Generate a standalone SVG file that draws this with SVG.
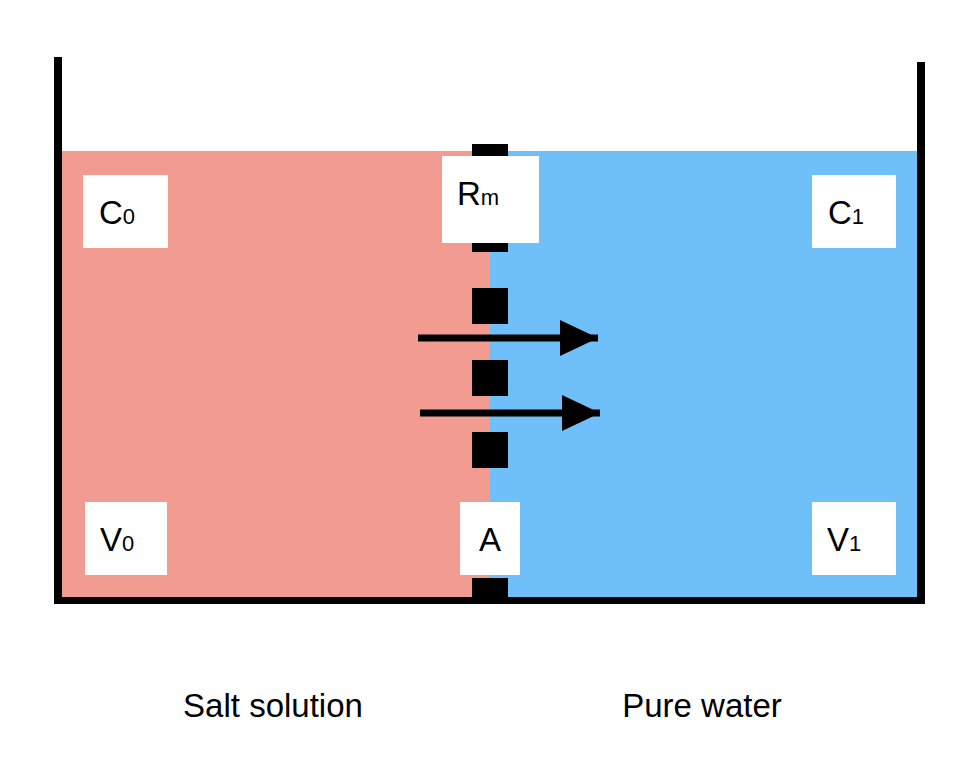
<svg xmlns="http://www.w3.org/2000/svg" width="972" height="770" viewBox="0 0 972 770">
<style>
.t{font-family:"Liberation Sans",Arial,sans-serif;font-size:33px;fill:#000}
.s{font-size:22px}
.box{fill:#fff}
.blk{fill:#000}
</style>
<defs>
<marker id="ah" markerUnits="userSpaceOnUse" markerWidth="40" markerHeight="40" refX="38" refY="18" orient="auto">
<path d="M0,0 L38,18 L0,36 Z" fill="#000"/>
</marker>
</defs>
<rect width="972" height="770" fill="#fff"/>
<g id="salt-solution"><rect x="61" y="151" width="429" height="449" fill="#f29b91"/></g>
<g id="pure-water"><rect x="490" y="151" width="431" height="449" fill="#6fbff8"/></g>
<g id="container">
<rect x="54" y="57" width="8" height="547" class="blk"/>
<rect x="917" y="62" width="8" height="542" class="blk"/>
<rect x="54" y="597" width="871" height="7" class="blk"/>
</g>
<g id="membrane">
<rect x="472" y="144" width="36" height="108" class="blk"/>
<rect x="472" y="288" width="36" height="36" class="blk"/>
<rect x="472" y="360" width="36" height="36" class="blk"/>
<rect x="472" y="432" width="36" height="36" class="blk"/>
<rect x="472" y="578" width="36" height="22" class="blk"/>
</g>
<g id="connectors" stroke="#000" stroke-width="7">
<line x1="418" y1="338" x2="598" y2="338" marker-end="url(#ah)"/>
<line x1="420" y1="413" x2="600" y2="413" marker-end="url(#ah)"/>
</g>
<g id="C0"><rect x="83" y="175" width="85" height="73" class="box"/><text x="99" y="224" class="t">C<tspan class="s">0</tspan></text></g>
<g id="Rm"><rect x="442" y="156" width="97" height="87" class="box"/><text x="457" y="205" class="t">R<tspan class="s">m</tspan></text></g>
<g id="C1"><rect x="812" y="175" width="84" height="73" class="box"/><text x="828" y="224" class="t">C<tspan class="s">1</tspan></text></g>
<g id="V0"><rect x="85" y="502" width="82" height="73" class="box"/><text x="100" y="551" class="t">V<tspan class="s">0</tspan></text></g>
<g id="A"><rect x="460" y="502" width="60" height="73" class="box"/><text x="490" y="551" class="t" text-anchor="middle">A</text></g>
<g id="V1"><rect x="812" y="502" width="84" height="73" class="box"/><text x="827" y="551" class="t">V<tspan class="s">1</tspan></text></g>
<text x="273" y="717" class="t" text-anchor="middle">Salt solution</text>
<text x="702" y="717" class="t" text-anchor="middle">Pure water</text>
</svg>
